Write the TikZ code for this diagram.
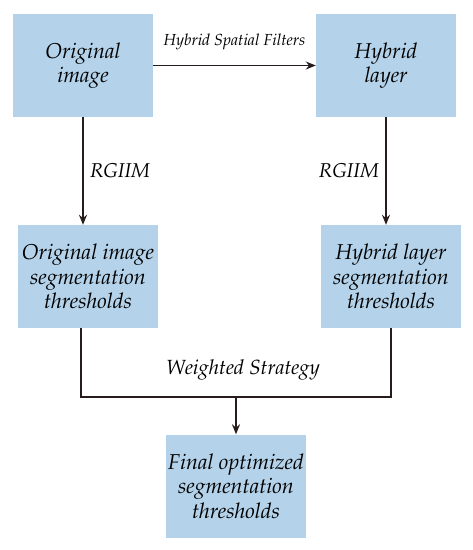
\documentclass[tikz,border=0pt]{standalone}
\usepackage[T1]{fontenc}
\usepackage{mathpazo}
\usepackage{tikz}
\usetikzlibrary{arrows.meta}
\definecolor{boxblue}{RGB}{180,211,234}
\definecolor{linedark}{RGB}{38,28,28}
\tikzset{
  stagebox/.style={fill=boxblue,minimum width=140pt,minimum height=103pt,align=center,
    inner sep=2pt,font=\fontsize{21.5}{24.5}\selectfont\itshape},
  steplabel/.style={font=\fontsize{20}{23}\selectfont\itshape},
  flow/.style={draw=linedark,line width=1.5pt}
}

\begin{document}
\begin{tikzpicture}[x=1pt,y=-1pt,>={Stealth[length=10pt,width=8pt]}]
\useasboundingbox (0,0) rectangle (473,550);
\node[stagebox] (N0) at (83,65.5) {Original\\image};
\node[stagebox] (N1) at (386,65.5) {Hybrid\\layer};
\node[stagebox] (N2) at (88,276.5) {Original image\\segmentation\\thresholds};
\node[stagebox] (N3) at (391,276.5) {Hybrid layer\\segmentation\\thresholds};
\node[stagebox] (N4) at (236,486) {Final optimized\\segmentation\\thresholds};
\coordinate (J) at (236,397);
\draw[flow,->] (N0) -- node[above=12pt,steplabel,font=\fontsize{16}{19}\selectfont\itshape]{Hybrid Spatial Filters} (N1);
\draw[flow,->] (N0.south) -- node[right=3pt,steplabel]{RGIIM} (N0.south |- N2.north);
\draw[flow,->] (N1.south) -- node[left=3pt,steplabel]{RGIIM} (N1.south |- N3.north);
\draw[flow] ([xshift=-7pt]N2.south) |- (J) -| (N3.south);
\draw[flow,->] (J) -- (N4);
\node[steplabel,font=\fontsize{20.5}{23}\selectfont\itshape] (W) at (243,370) {Weighted Strategy};
\end{tikzpicture}
\end{document}
